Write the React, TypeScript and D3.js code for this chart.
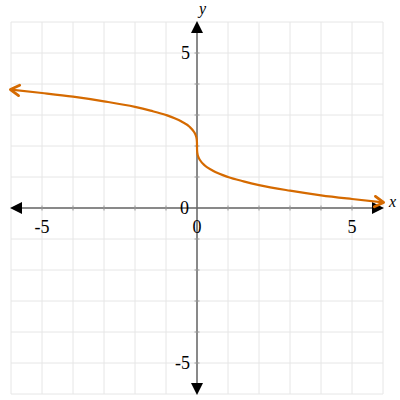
import * as d3 from "d3";

// points (x, y)
const curveX = [-6, -5, -4, -3, -2, -1.5, -1, -0.5, -0.25, -0.1, -0.05, -0.01, -0.001, 0, 0.001, 0.01, 0.05, 0.1, 0.25, 0.5, 1, 1.5, 2, 3, 4, 5, 6];
const curveY = [3.82, 3.71, 3.59, 3.44, 3.26, 3.14, 3.0, 2.79, 2.63, 2.46, 2.37, 2.22, 2.1, 2.0, 1.9, 1.78, 1.63, 1.54, 1.37, 1.21, 1.0, 0.86, 0.74, 0.56, 0.41, 0.29, 0.18];
const gridTicks = [-6, -5, -4, -3, -2, -1, 0, 1, 2, 3, 4, 5, 6];
const labelTicks = [-5, 5];

const W = 400;
const H = 400;
const CURVE = "#d56a00";
const FONT = "Liberation Serif, serif";

export default function App() {
  const x = d3.scaleLinear().domain([-6, 6]).range([11, 383]);
  const y = d3.scaleLinear().domain([-6, 6]).range([394, 22]);
  const pts: [number, number][] = curveX.map((v, i) => [v, curveY[i]]);
  const line = d3
    .line<[number, number]>()
    .x((d) => x(d[0]))
    .y((d) => y(d[1]))
    .curve(d3.curveMonotoneX);

  const txt = { fontFamily: FONT, fontSize: 18 };
  const ital = { fontFamily: FONT, fontSize: 16, fontStyle: "italic" as const };

  return (
    <svg
      width={W}
      height={H}
      style={{ position: "absolute", left: 0, top: 0, background: "#fff" }}
    >
      <defs>
        <marker id="axArrow" viewBox="0 0 10 10" refX="5" refY="5" markerWidth="12" markerHeight="12" markerUnits="userSpaceOnUse" orient="auto-start-reverse">
          <path d="M0,0 L10,5 L0,10 Z" fill="#000" />
        </marker>
        <marker id="curveArrow" viewBox="0 0 12 12" refX="9" refY="6" markerWidth="14" markerHeight="14" markerUnits="userSpaceOnUse" orient="auto-start-reverse">
          <path d="M2,1.5 L9.5,6 L2,10.5" fill="none" stroke={CURVE} strokeWidth={2.4} strokeLinecap="round" strokeLinejoin="round" />
        </marker>
      </defs>

      {/* grid */}
      <g stroke="#e6e6e6" strokeWidth={1}>
        {gridTicks.map((t) => (
          <line key={"v" + t} x1={x(t)} x2={x(t)} y1={y(6)} y2={y(-6)} />
        ))}
        {gridTicks.map((t) => (
          <line key={"h" + t} x1={x(-6)} x2={x(6)} y1={y(t)} y2={y(t)} />
        ))}
      </g>

      {/* axes */}
      <g stroke="#666" strokeWidth={1.5}>
        <line x1={x(-6) + 5} x2={x(6) - 5} y1={y(0)} y2={y(0)} markerStart="url(#axArrow)" markerEnd="url(#axArrow)" />
        <line x1={x(0)} x2={x(0)} y1={y(6) + 5} y2={y(-6) - 5} markerStart="url(#axArrow)" markerEnd="url(#axArrow)" />
      </g>
      <g stroke="#999" strokeWidth={1}>
        {gridTicks.filter((t) => Math.abs(t) < 6 && t !== 0).map((t) => (
          <g key={"t" + t}>
            <line x1={x(t)} x2={x(t)} y1={y(0) - 2.5} y2={y(0) + 2.5} />
            <line x1={x(0) - 2.5} x2={x(0) + 2.5} y1={y(t)} y2={y(t)} />
          </g>
        ))}
      </g>

      {/* tick labels */}
      <g fill="#000">
        {labelTicks.map((t) => (
          <text key={"xl" + t} x={x(t)} y={y(0) + 25} textAnchor="middle" style={txt}>
            {t < 0 ? "-" + Math.abs(t) : t}
          </text>
        ))}
        <text x={x(0)} y={y(0) + 25} textAnchor="middle" style={txt}>0</text>
        {labelTicks.map((t) => (
          <text key={"yl" + t} x={x(0) - 7} y={y(t) + 6} textAnchor="end" style={txt}>
            {t < 0 ? "-" + Math.abs(t) : t}
          </text>
        ))}
        <text x={x(0) - 8} y={y(0) + 6} textAnchor="end" style={txt}>0</text>
        <text x={x(6) + 6} y={y(0) - 1} style={ital}>x</text>
        <text x={x(0) + 2} y={y(6) - 8} style={ital}>y</text>
      </g>

      {/* curve */}
      <path
        d={line(pts) ?? ""}
        fill="none"
        stroke={CURVE}
        strokeWidth={2.2}
        markerStart="url(#curveArrow)"
        markerEnd="url(#curveArrow)"
      />
    </svg>
  );
}
